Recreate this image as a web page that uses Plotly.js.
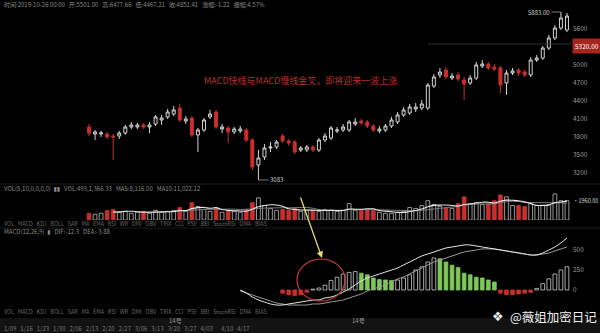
<!DOCTYPE html>
<html><head><meta charset="utf-8">
<script src="https://cdn.plot.ly/plotly-3.0.1.min.js"></script>
<style>html,body{margin:0;padding:0;background:#000;}#c{width:600px;height:333px;}</style>
</head><body><div id="c"></div>
<script>
// ---- data ----
const opens  = [3966,3850,3850,3850,3816,3816,3866,3966,3966,4000,3966,4016,4083,4133,4183,4283,4066,4116,3833,3916,4133,4216,3933,3950,3883,3900,3916,3750,3333,3466,3616,3633,3816,3733,3716,3583,3583,3633,3583,3750,3783,3900,3916,3916,4016,4066,4050,3983,3900,3916,3983,4050,4166,4200,4266,4283,4283,4650,4833,4916,4783,4833,4750,4700,4783,4983,5016,4966,4950,4700,4866,4916,4883,4833,5083,5116,5283,5450,5616,5583];
const closes = [3866,3883,3866,3800,3800,3866,3966,4000,4000,3966,4000,4133,4116,4216,4250,4083,4100,3833,3916,4083,4183,3966,3966,3883,3933,3933,3750,3300,3450,3616,3633,3716,3733,3700,3550,3616,3633,3583,3750,3816,3950,3916,3966,4050,4050,4033,3983,3916,3933,3983,4083,4166,4250,4300,4300,4350,4666,4800,4883,4800,4816,4766,4683,4783,5000,5016,4950,4933,4666,4866,4900,4866,4833,5083,5116,5283,5450,5616,5783,5816];
const highs  = [4016,3916,3900,3883,3850,3900,4000,4050,4033,4033,4050,4166,4166,4266,4316,4350,4150,4150,3950,4116,4250,4250,4016,3983,3966,3983,3950,3783,3583,3683,3716,3750,3850,3766,3750,3650,3666,3666,3783,3866,3983,3966,4016,4083,4116,4100,4083,4016,3983,4016,4133,4216,4300,4350,4366,4416,4700,4850,4950,4966,4866,4883,4800,4833,5050,5083,5050,5016,4983,4916,4950,4950,4916,5133,5166,5316,5500,5666,5883,5866];
const lows   = [3816,3750,3800,3766,3416,3766,3833,3933,3933,3933,3866,3983,4000,4100,4150,4050,4016,3800,3550,3883,4100,3933,3866,3700,3850,3866,3716,3250,3083,3416,3550,3600,3700,3650,3516,3550,3550,3550,3550,3716,3750,3866,3883,3883,3983,4000,3950,3883,3866,3883,3950,4016,4133,4166,4216,4250,4250,4616,4783,4766,4750,4733,4416,4666,4750,4950,4916,4900,4533,4500,4833,4816,4800,4800,5050,5083,5250,5416,5583,5550];
const volumes = [700,600,700,1000,1100,800,900,700,800,900,700,1000,800,900,1000,1300,900,1800,1400,1100,900,1200,800,1000,900,800,1100,1800,2300,1500,1200,1000,1100,1000,1200,900,1000,1000,900,1100,1000,900,1000,1700,1000,1000,1100,1000,800,700,700,800,900,1300,1200,1500,2000,1600,1400,1300,1200,1700,2400,1700,1800,1600,1700,2000,2600,2400,1500,1500,1400,1700,1500,1500,1600,2700,2000,2000];
const N = null;
const dif  = [N,N,N,N,N,N,N,N,N,N,N,N,N,N,N,N,N,N,N,N,N,N,N,N,N,0,-38,-88,-125,-150,-175,-188,-188,-175,-163,-150,-138,-125,-125,-100,-88,-63,-25,13,63,113,150,175,200,225,250,275,313,350,388,425,450,475,500,525,538,550,563,563,550,538,525,513,500,488,475,463,450,438,438,463,500,538,588,650];
const dea  = [N,N,N,N,N,N,N,N,N,N,N,N,N,N,N,N,N,N,N,N,N,N,N,N,N,-13,-38,-63,-88,-113,-138,-163,-175,-188,-188,-188,-188,-175,-175,-163,-150,-138,-125,-100,-75,-50,-13,13,38,63,100,138,163,200,238,275,313,350,375,400,425,450,475,488,500,513,513,513,500,488,475,463,450,438,438,450,463,488,513,538];
const macdHist = [N,N,N,N,N,N,N,N,N,N,N,N,N,N,N,N,N,N,N,N,N,N,N,N,N,N,N,N,N,N,N,N,-40,-60,-70,-60,-30,10,25,60,120,160,200,220,230,210,190,150,130,125,120,125,150,190,250,290,350,400,390,350,310,280,210,190,160,150,125,100,-40,-60,-60,-50,-40,-30,20,80,140,200,250,290];
const priceTicks = [3200,3500,3800,4100,4400,4700,5000,5600];
const macdTicks = [0,250,500];
const headerText = '时间:2019-10-26 00:00   开:5501.00   高:6477.66   低:4467.21   收:4851.41   涨幅:-1.22   振幅:4.57%';
const volLabel = 'VOL(5,10,0,0,0,0)  ▮▮   VOL:493,1,366.33   MA5:8,116.00   MA10:11,022.12';
const macdLabel = 'MACD(12,26,9)  ▮   DIF:-12.3   DEA:-3.88';
const noteText = 'MACD快线与MACD慢线金叉，即将迎来一波上涨';
const tabRow = 'VOL   MACD   KDJ   BOLL   SAR   MA   EMA   RSI   WR   DMI   OBV   TRIX   CCI   PSY   BBI   StochRSI   DMA   BIAS';
const dateRow = '1/09   1/16   1/23   1/30   2/06   2/13   2/20   2/27   3/06   3/13   3/20   3/27   4/03      4/10   4/17';
const dayMark = '14号';
const watermark = '@薇姐加密日记';
const tagPrice = 5320;

// ---- derived ----
const xs = opens.map((_, i) => i);
const up = closes.map((c, i) => c >= opens[i]);
function ma(arr, n) { return arr.map((_, i) => i < n - 1 ? null : arr.slice(i - n + 1, i + 1).reduce((a, b) => a + b, 0) / n); }
const ma5 = ma(volumes, 5), ma10 = ma(volumes, 10);
const RED = '#c8302e', WHITE = '#d4d4d4', GREEN = '#7fc75a';
const volFill = up.map(u => u ? 'rgba(0,0,0,0)' : RED);
const volLine = up.map(u => u ? '#bdbdbd' : RED);
const rising = (v, i) => i > 0 && macdHist[i-1] != null && v > macdHist[i-1];
const histFill = macdHist.map((v, i) => v == null ? 'rgba(0,0,0,0)' : v < 0 ? RED : rising(v, i) ? 'rgba(0,0,0,0)' : GREEN);
const histLine = macdHist.map((v, i) => v == null ? 'rgba(0,0,0,0)' : v < 0 ? RED : rising(v, i) ? '#cfcfcf' : GREEN);

let hiIdx = 0, loIdx = 0;
highs.forEach((h, i) => { if (h > highs[hiIdx]) hiIdx = i; });
lows.forEach((l, i) => { if (l < lows[loIdx]) loIdx = i; });

const PW = 572, PH = 333;
const px = x => x / PW, py = y => 1 - y / PH;

const traces = [
  { type: 'candlestick', x: xs, open: opens, high: highs, low: lows, close: closes,
    increasing: { line: { color: WHITE, width: 1 }, fillcolor: 'rgba(0,0,0,0)' },
    decreasing: { line: { color: RED, width: 1 }, fillcolor: RED },
    whiskerwidth: 0, xaxis: 'x', yaxis: 'y', hoverinfo: 'skip' },
  { type: 'bar', x: xs, y: volumes, width: 0.62, marker: { color: volFill, line: { color: volLine, width: 0.8 } }, xaxis: 'x', yaxis: 'y2', hoverinfo: 'skip' },
  { type: 'scatter', mode: 'lines', x: xs, y: ma10, line: { color: '#7a7a7a', width: 1 }, xaxis: 'x', yaxis: 'y2', hoverinfo: 'skip' },
  { type: 'scatter', mode: 'lines', x: xs, y: ma5, line: { color: '#e6e6e6', width: 1.1, shape: 'spline' }, xaxis: 'x', yaxis: 'y2', hoverinfo: 'skip' },
  { type: 'bar', x: xs, y: macdHist, width: 0.62, marker: { color: histFill, line: { color: histLine, width: 0.8 } }, xaxis: 'x', yaxis: 'y3', hoverinfo: 'skip' },
  { type: 'scatter', mode: 'lines', x: xs, y: dea, line: { color: '#9c9c9c', width: 1, shape: 'spline' }, xaxis: 'x', yaxis: 'y3', hoverinfo: 'skip' },
  { type: 'scatter', mode: 'lines', x: xs, y: dif, line: { color: '#e8e8e8', width: 1, shape: 'spline' }, xaxis: 'x', yaxis: 'y3', hoverinfo: 'skip' }
];

const small = (s, c) => ({ size: s, color: c, family: 'Noto Sans CJK SC, DejaVu Sans, sans-serif' });
const annotations = [
  { xref: 'paper', yref: 'paper', x: px(2), y: py(5), xanchor: 'left', yanchor: 'middle', text: headerText, showarrow: false, font: small(6, '#8a8a8a') },
  { xref: 'paper', yref: 'paper', x: px(2), y: py(188), xanchor: 'left', yanchor: 'middle', text: volLabel, showarrow: false, font: small(6, '#8a8a8a') },
  { xref: 'paper', yref: 'paper', x: px(2), y: py(232), xanchor: 'left', yanchor: 'middle', text: macdLabel, showarrow: false, font: small(6, '#8a8a8a') },
  { xref: 'paper', yref: 'paper', x: px(2), y: py(224), xanchor: 'left', yanchor: 'middle', text: tabRow, showarrow: false, font: small(5.5, '#666') },
  { xref: 'paper', yref: 'paper', x: px(2), y: py(312), xanchor: 'left', yanchor: 'middle', text: tabRow, showarrow: false, font: small(5.5, '#666') },
  { xref: 'paper', yref: 'paper', x: px(2), y: py(328), xanchor: 'left', yanchor: 'middle', text: dateRow, showarrow: false, font: small(6, '#777') },
  { xref: 'paper', yref: 'paper', x: px(175), y: py(320), xanchor: 'center', yanchor: 'middle', text: dayMark, showarrow: false, font: small(6, '#999') },
  { xref: 'paper', yref: 'paper', x: px(358), y: py(320), xanchor: 'center', yanchor: 'middle', text: dayMark, showarrow: false, font: small(6, '#999') },
  { xref: 'paper', yref: 'paper', x: px(300), y: py(80), xanchor: 'center', yanchor: 'middle', text: noteText, showarrow: false, font: small(9, '#b3312c') },
  { xref: 'x', yref: 'y', x: hiIdx, y: highs[hiIdx], text: highs[hiIdx].toFixed(2), showarrow: true, ax: -22, ay: 0, arrowhead: 0, arrowwidth: 0.7, arrowcolor: '#aaa', font: small(6, '#ccc') },
  { xref: 'x', yref: 'y', x: loIdx, y: lows[loIdx], text: String(lows[loIdx]), showarrow: true, ax: 18, ay: 0, arrowhead: 0, arrowwidth: 0.7, arrowcolor: '#aaa', font: small(6, '#ccc') },
  { xref: 'paper', yref: 'y', x: 1.0, y: tagPrice, xanchor: 'left', yanchor: 'middle', text: tagPrice.toFixed(2), showarrow: false, bgcolor: '#a8241f', borderpad: 2, font: small(6.5, '#fff') },
  { xref: 'paper', yref: 'y2', x: 0.999, y: ma5[ma5.length - 1], xanchor: 'left', yanchor: 'middle', text: '•' + ma5[ma5.length - 1].toFixed(2), showarrow: false, font: small(5.5, '#cfcfcf') },
  { xref: 'paper', yref: 'paper', x: px(322), y: py(258), ax: -22, ay: -62, text: '', showarrow: true, arrowhead: 2, arrowsize: 1, arrowwidth: 1.3, arrowcolor: '#e8d873' },
  { xref: 'paper', yref: 'paper', x: px(498), y: py(316), xanchor: 'center', yanchor: 'middle', text: '❖', showarrow: false, font: { size: 13, color: '#f2f2f2', family: 'DejaVu Sans' } },
  { xref: 'paper', yref: 'paper', x: px(508), y: py(316), xanchor: 'left', yanchor: 'middle', text: watermark, showarrow: false, font: { size: 12.5, color: '#f2f2f2', family: 'Noto Sans CJK SC' } }
];

const shapes = [
  { type: 'rect', xref: 'paper', yref: 'paper', x0: 0, x1: 600 / PW, y0: py(333), y1: py(318), fillcolor: '#121212', line: { width: 0 }, layer: 'below' },
  { type: 'line', xref: 'paper', yref: 'paper', x0: 0, x1: 600 / PW, y0: py(184), y1: py(184), line: { color: '#1c1c1c', width: 1 } },
  { type: 'line', xref: 'paper', yref: 'paper', x0: 0, x1: 600 / PW, y0: py(228), y1: py(228), line: { color: '#1c1c1c', width: 1 } },
  { type: 'line', xref: 'x', yref: 'y', x0: 56, x1: 79.8, y0: tagPrice + 30, y1: tagPrice + 30, line: { color: '#3a3a3a', width: 0.8 } },
  { type: 'circle', xref: 'paper', yref: 'paper', x0: px(297), x1: px(345), y0: py(301), y1: py(259), line: { color: '#d23a3a', width: 1.2 } }
];

const layout = {
  width: 600, height: 333, margin: { l: 0, r: 28, t: 0, b: 0 },
  paper_bgcolor: '#000', plot_bgcolor: '#000', showlegend: false, bargap: 0.3,
  xaxis: { range: [-14.71, 79.83], visible: false, rangeslider: { visible: false }, fixedrange: true },
  yaxis: { domain: [0.4505, 0.976], range: [3033, 5950], side: 'right', tickvals: priceTicks, ticktext: priceTicks.map(String), showgrid: false, zeroline: false, tickfont: small(6.5, '#9a9a9a'), ticks: '', fixedrange: true },
  yaxis2: { domain: [0.3393, 0.4234], range: [0, 2900], anchor: 'x', showticklabels: false, showgrid: false, zeroline: false, fixedrange: true },
  yaxis3: { domain: [0.0751, 0.2913], range: [-225, 675], anchor: 'x', side: 'right', tickvals: macdTicks, ticktext: macdTicks.map(String), showgrid: false, zeroline: false, tickfont: small(6.5, '#9a9a9a'), ticks: '', fixedrange: true },
  annotations, shapes
};
Plotly.newPlot('c', traces, layout, { staticPlot: true, displayModeBar: false });
</script></body></html>
